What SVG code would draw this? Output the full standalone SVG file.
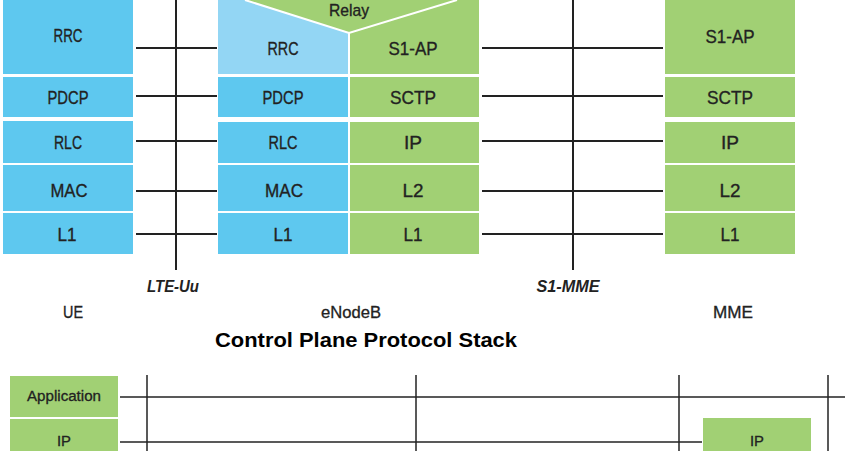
<svg xmlns="http://www.w3.org/2000/svg" width="858" height="451" viewBox="0 0 858 451">
<style>
.bl{fill:#5ec8ef}
.lb{fill:#93d6f4}
.gr{fill:#a1d074}
.t{font-family:"Liberation Sans",Arial,sans-serif;font-size:19px;fill:#222;stroke:#222;stroke-width:0.35;text-anchor:middle}
.ts{font-family:"Liberation Sans",Arial,sans-serif;font-size:14px;fill:#222;stroke:#222;stroke-width:0.3;text-anchor:middle}
.lbl{font-family:"Liberation Sans",Arial,sans-serif;font-size:16px;fill:#222;stroke:#222;stroke-width:0.3;text-anchor:middle}
.it{font-family:"Liberation Sans",Arial,sans-serif;font-size:16px;font-style:italic;font-weight:bold;fill:#222;text-anchor:middle}
.title{font-family:"Liberation Sans",Arial,sans-serif;font-size:21px;font-weight:bold;fill:#000}
.ln{stroke:#222;stroke-width:2;fill:none}
.ln2{stroke:#222;stroke-width:1.5;fill:none}
</style>
<rect width="858" height="451" fill="#fff"/>

<g id="ue">
<rect class="bl" x="3" y="0" width="130" height="74"/>
<rect class="bl" x="3" y="77" width="130" height="40"/>
<rect class="bl" x="3" y="121" width="130" height="42"/>
<rect class="bl" x="3" y="165" width="130" height="46"/>
<rect class="bl" x="3" y="213" width="130" height="41"/>
<text class="t" x="68" y="42" textLength="29" lengthAdjust="spacingAndGlyphs">RRC</text>
<text class="t" x="68" y="104" textLength="41" lengthAdjust="spacingAndGlyphs">PDCP</text>
<text class="t" x="68" y="149" textLength="28" lengthAdjust="spacingAndGlyphs">RLC</text>
<text class="t" x="69" y="197" textLength="37" lengthAdjust="spacingAndGlyphs">MAC</text>
<text class="t" x="67" y="241" textLength="19" lengthAdjust="spacingAndGlyphs">L1</text>
<text class="lbl" x="73" y="318" textLength="20" lengthAdjust="spacingAndGlyphs">UE</text>
</g>

<g id="enodeb">
<rect class="lb" x="218" y="-2" width="130" height="76"/>
<rect class="gr" x="350" y="-2" width="129" height="76"/>
<polygon class="gr" points="245,-10 245,0 349,33 457,0 457,-10"/>
<polyline points="245,0 349,33 457,0" fill="none" stroke="#fff" stroke-width="2"/>
<rect class="bl" x="218" y="77" width="130" height="40"/>
<rect class="bl" x="218" y="122" width="130" height="41"/>
<rect class="bl" x="218" y="165" width="130" height="46"/>
<rect class="bl" x="218" y="213" width="130" height="41"/>
<rect class="gr" x="350" y="77" width="129" height="40"/>
<rect class="gr" x="350" y="122" width="129" height="41"/>
<rect class="gr" x="350" y="165" width="129" height="46"/>
<rect class="gr" x="350" y="213" width="129" height="41"/>
<text class="t" x="349" y="16" style="font-size:17px" textLength="40" lengthAdjust="spacingAndGlyphs">Relay</text>
<text class="t" x="283" y="55" textLength="31" lengthAdjust="spacingAndGlyphs">RRC</text>
<text class="t" x="413" y="55" textLength="49" lengthAdjust="spacingAndGlyphs">S1-AP</text>
<text class="t" x="283" y="104" textLength="41" lengthAdjust="spacingAndGlyphs">PDCP</text>
<text class="t" x="413" y="104" textLength="46" lengthAdjust="spacingAndGlyphs">SCTP</text>
<text class="t" x="283" y="149" textLength="29" lengthAdjust="spacingAndGlyphs">RLC</text>
<text class="t" x="413" y="149" textLength="18" lengthAdjust="spacingAndGlyphs">IP</text>
<text class="t" x="284" y="197" textLength="38" lengthAdjust="spacingAndGlyphs">MAC</text>
<text class="t" x="413" y="197" textLength="21" lengthAdjust="spacingAndGlyphs">L2</text>
<text class="t" x="283" y="241" textLength="19" lengthAdjust="spacingAndGlyphs">L1</text>
<text class="t" x="413" y="241" textLength="19" lengthAdjust="spacingAndGlyphs">L1</text>
<text class="lbl" x="351" y="318" textLength="60" lengthAdjust="spacingAndGlyphs">eNodeB</text>
</g>

<g id="mme">
<rect class="gr" x="665" y="0" width="130" height="74"/>
<rect class="gr" x="665" y="77" width="130" height="40"/>
<rect class="gr" x="665" y="122" width="130" height="41"/>
<rect class="gr" x="665" y="165" width="130" height="46"/>
<rect class="gr" x="665" y="213" width="130" height="41"/>
<text class="t" x="730" y="43" textLength="49" lengthAdjust="spacingAndGlyphs">S1-AP</text>
<text class="t" x="730" y="104" textLength="46" lengthAdjust="spacingAndGlyphs">SCTP</text>
<text class="t" x="730" y="149" textLength="18" lengthAdjust="spacingAndGlyphs">IP</text>
<text class="t" x="730" y="197" textLength="21" lengthAdjust="spacingAndGlyphs">L2</text>
<text class="t" x="730" y="241" textLength="19" lengthAdjust="spacingAndGlyphs">L1</text>
<text class="lbl" x="733" y="318" textLength="40" lengthAdjust="spacingAndGlyphs">MME</text>
</g>

<g id="interfaces">
<text class="it" x="173" y="292" textLength="52" lengthAdjust="spacingAndGlyphs">LTE-Uu</text>
<text class="it" x="568" y="292" textLength="63" lengthAdjust="spacingAndGlyphs">S1-MME</text>
</g>

<g id="title">
<text class="title" x="215" y="347" textLength="302" lengthAdjust="spacingAndGlyphs">Control Plane Protocol Stack</text>
</g>

<g id="up-ue">
<rect class="gr" x="10" y="376" width="108" height="41"/>
<rect class="gr" x="10" y="419" width="108" height="40"/>
<text class="ts" x="64" y="401" textLength="74" lengthAdjust="spacingAndGlyphs">Application</text>
<text class="ts" x="64" y="446" textLength="14" lengthAdjust="spacingAndGlyphs">IP</text>
</g>

<g id="up-node">
<rect class="gr" x="703" y="418" width="108" height="40"/>
<text class="ts" x="757" y="446" textLength="14" lengthAdjust="spacingAndGlyphs">IP</text>
</g>

<g id="connectors">
<line class="ln" x1="176" y1="0" x2="176" y2="270"/>
<line class="ln" x1="573" y1="0" x2="573" y2="270"/>
<line class="ln" x1="136" y1="48" x2="217" y2="48"/>
<line class="ln" x1="136" y1="96" x2="217" y2="96"/>
<line class="ln" x1="136" y1="141" x2="217" y2="141"/>
<line class="ln" x1="136" y1="191" x2="217" y2="191"/>
<line class="ln" x1="136" y1="234" x2="217" y2="234"/>
<line class="ln" x1="482" y1="48" x2="663" y2="48"/>
<line class="ln" x1="482" y1="96" x2="663" y2="96"/>
<line class="ln" x1="482" y1="141" x2="663" y2="141"/>
<line class="ln" x1="482" y1="191" x2="663" y2="191"/>
<line class="ln" x1="482" y1="234" x2="663" y2="234"/>
<line class="ln2" x1="147" y1="375" x2="147" y2="451"/>
<line class="ln2" x1="416" y1="375" x2="416" y2="451"/>
<line class="ln2" x1="679" y1="375" x2="679" y2="451"/>
<line class="ln2" x1="828" y1="375" x2="828" y2="451"/>
<line class="ln2" x1="120" y1="397" x2="845" y2="397"/>
<line class="ln2" x1="120" y1="442" x2="702" y2="442"/>
</g>
</svg>
